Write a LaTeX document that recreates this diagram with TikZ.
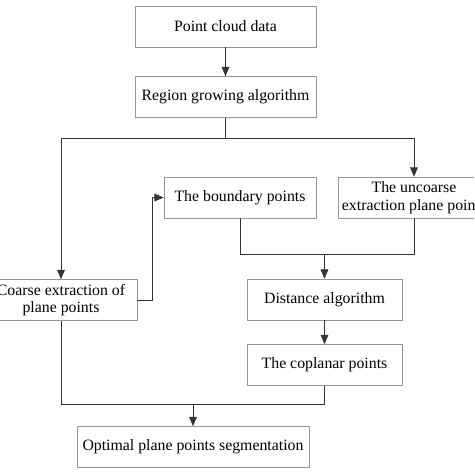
\documentclass[tikz,border=0pt]{standalone}
\usepackage{fontspec}
\setmainfont{Liberation Serif}
\usepackage{tikz}
\usepackage{xcolor}
\usetikzlibrary{arrows.meta, positioning, calc}
\definecolor{flowLine}{RGB}{51, 51, 51}
\definecolor{flowBorder}{RGB}{150, 150, 150}

\begin{document}
\begin{tikzpicture}[
        x=0.03cm, y=-0.03cm,
        box/.style={rectangle, draw=flowBorder, fill=white, minimum width=4.56cm, minimum height=1.23cm, align=center, inner sep=1pt, font=\fontsize{13.5}{15}\selectfont},
        line/.style={flowLine, line width=0.8pt},
        arrow/.style={-{Triangle[length=8pt, width=6.5pt]}, line}
    ]
        \clip (0,0) rectangle (474,474);
        \fill[white] (0,0) rectangle (474,474);

        % Top of the flow
        \node[box, minimum width=5.43cm] (pcd) at (225.5, 26.5) {Point cloud data};
        \node[box, minimum width=5.43cm, below=0.87cm of pcd] (rga) {Region growing algorithm};

        % Middle row
        \node[box] (coarse) at (61, 300) {Coarse extraction of\\plane points};
        \node[box] (bnd) at (240, 197.5) {The boundary points};
        \node[box] (unc) at (414, 197.5) {The uncoarse\\extraction plane points};
        \node[box, minimum width=4.65cm] (dist) at (324.5, 299.5) {Distance algorithm};
        \node[box, minimum width=4.65cm, below=0.72cm of dist] (copl) {The coplanar points};

        % Result
        \node[box, minimum width=6.96cm] (opt) at (193, 447) {Optimal plane points segmentation};

        \coordinate (split) at ($(rga.south)+(0,21)$);
        \coordinate (merge) at ($(dist.north)+(0,-24)$);
        \coordinate (join) at ($(opt.north)+(0,-22)$);

        \draw[arrow] (pcd) -- (rga);
        \draw[line] (rga.south) -- (split);
        \draw[arrow] (split) -| (coarse.north);
        \draw[arrow] (split) -| (unc.north);
        \draw[arrow] (coarse.east) -- ++(15,0) |- (bnd.west);
        \draw[line] (bnd.south) |- (merge) -| (unc.south);
        \draw[arrow] (merge) -- (dist.north);
        \draw[arrow] (dist) -- (copl);
        \draw[line] (coarse.south) |- (join) -| (copl.south);
        \draw[arrow] (join) -- (opt.north);
    \end{tikzpicture}
\end{document}
